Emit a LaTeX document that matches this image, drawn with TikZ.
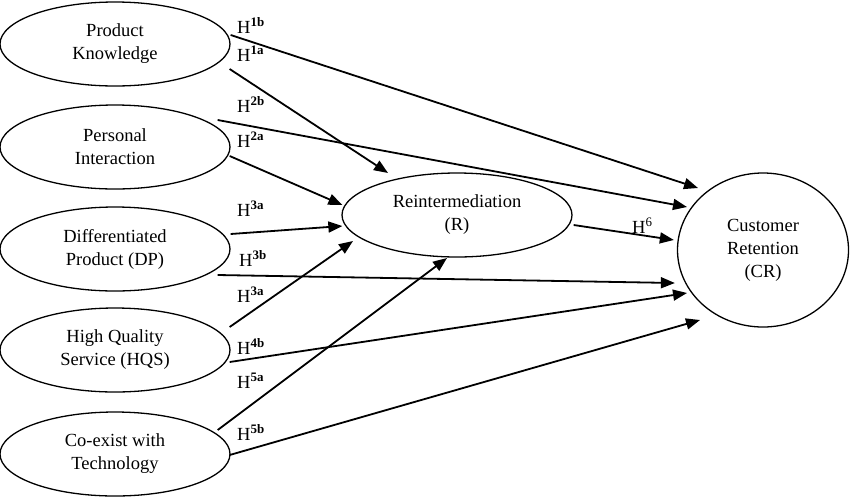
\documentclass[tikz,border=0pt]{standalone}
\usepackage{fontspec}
\setmainfont{Liberation Serif}
\usetikzlibrary{shapes.geometric,arrows.meta}
\newcommand{\hsup}[1]{H\textsuperscript{\textbf{#1}}}
\begin{document}
\begin{tikzpicture}[x=1pt,y=-1pt,
  construct/.style={draw,ellipse,line width=1.3pt,minimum width=230pt,minimum height=84pt,
     inner sep=0pt,align=center,font=\fontsize{18.5}{23}\selectfont},
  path/.style={line width=1.8pt,-{Triangle[length=14pt,width=11pt]}},
  hyp/.style={inner sep=0pt,anchor=base west,font=\fontsize{18.5}{22}\selectfont}]
\useasboundingbox (0,0) rectangle (850,499);
\node[construct] (pk) at (115,44) {Product\\Knowledge};
\node[construct] (pi) at (115,147) {Personal\\Interaction};
\node[construct] (dp) at (115,249) {Differentiated\\Product (DP)};
\node[construct] (hqs) at (115,350) {High Quality\\Service (HQS)};
\node[construct] (ct) at (115,454) {Co-exist with\\Technology};
\node[construct] (r) at (457,215) {Reintermediation\\(R)};
\node[construct,minimum width=171pt,minimum height=154pt] (cr) at (763,250) {Customer\\Retention\\(CR)};
% paths
\draw[path] ([shift={(0,-9)}]pk.east) -- ([shift={(-65,-62)}]cr.center);
\draw[path] ([shift={(-1,25)}]pk.east) -- ([shift={(-69,-42)}]r.center);
\draw[path] ([shift={(-13,-27)}]pi.east) -- ([shift={(-76,-43)}]cr.center);
\draw[path] ([shift={(-1,9)}]pi.east) -- ([shift={(1,-10)}]r.west);
\draw[path] ([shift={(0,-15)}]dp.east) -- ([shift={(1,11)}]r.west);
\draw[path] ([shift={(-13,26)}]dp.east) -- ([shift={(-2,33)}]cr.west);
\draw[path] ([shift={(-1,-23)}]hqs.east) -- ([shift={(-104,26)}]r.center);
\draw[path] ([shift={(-1,12)}]hqs.east) -- ([shift={(-76,43)}]cr.center);
\draw[path] ([shift={(-13,-24)}]ct.east) -- ([shift={(-10,43)}]r.center);
\draw[path] ([shift={(-1,1)}]ct.east) -- ([shift={(-63,70)}]cr.center);
\draw[path] ([shift={(1,10)}]r.east) -- ([shift={(-3,-10)}]cr.west);
% labels
\node[hyp] (h1b) at (237,33) {\hsup{1b}};
\node[hyp] (h1a) at (237,61) {\hsup{1a}};
\node[hyp] (h2b) at (237,112) {\hsup{2b}};
\node[hyp] (h2a) at (237,147) {\hsup{2a}};
\node[hyp] (h3a) at (237,216) {\hsup{3a}};
\node[hyp] (h3b) at (239,266) {\hsup{3b}};
\node[hyp] (h3c) at (237,302) {\hsup{3a}};
\node[hyp] (h4b) at (237,354) {\hsup{4b}};
\node[hyp] (h5a) at (237,388) {\hsup{5a}};
\node[hyp] (h5b) at (237,440) {\hsup{5b}};
\node[hyp] (h6) at (632,233) {H\textsuperscript{6}};
\end{tikzpicture}
\end{document}
